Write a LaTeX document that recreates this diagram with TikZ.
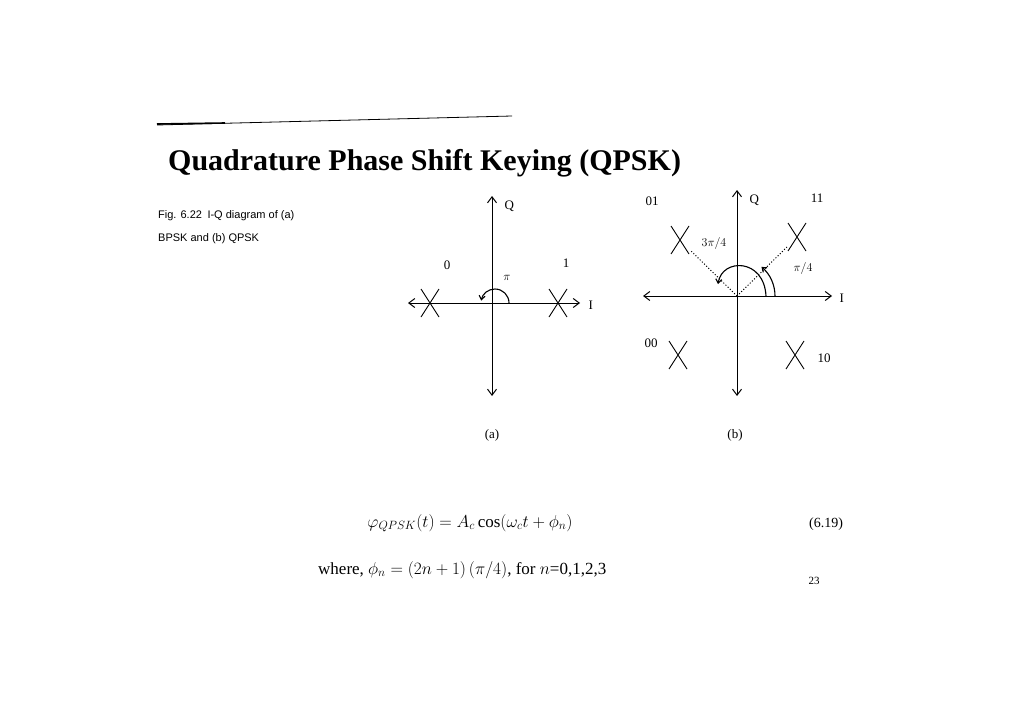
\documentclass[tikz,border=0pt]{standalone}
\usepackage{fontspec}
\setmainfont{Liberation Serif}
\newfontfamily\capfont{Liberation Sans}
\usetikzlibrary{arrows.meta}
\begin{document}
\begin{tikzpicture}[x=1pt,y=-1pt,
  ax/.style={line width=1pt,{Straight Barb[length=6pt,width=9pt]}-{Straight Barb[length=6pt,width=9pt]}},
  arcar/.style={line width=1.1pt,-{Straight Barb[length=4pt,width=6pt]}},
  lbl/.style={font=\fontsize{13}{13}\selectfont},
  dots/.style={dotted,line width=1pt}]
\useasboundingbox (0,0) rectangle (1024,707);
% header rule
\draw[line width=0.8pt] (157,125) -- (512,116);
\draw[line width=1.6pt] (157,124) -- (225,123);
\node[anchor=base west,inner sep=0,font=\fontsize{30}{30}\selectfont\bfseries] (title) at (168,170) {Quadrature Phase Shift Keying (QPSK)};
\node[anchor=base west,inner sep=0,font=\capfont\fontsize{11}{11}\selectfont] (cap1) at (158,218) {Fig. 6.22\enspace I-Q diagram of (a)};
\node[anchor=base west,inner sep=0,font=\capfont\fontsize{11}{11}\selectfont] (cap2) at (158,241) {BPSK and (b) QPSK};
% diagram (a)
\coordinate (oa) at (492,303);
\coordinate (al) at (408,303); \coordinate (ar) at (580,303);
\coordinate (at) at (492,196); \coordinate (ab) at (492,396);
\draw[ax] (al) -- (ar);
\draw[ax] (at) -- (ab);
\node[lbl,anchor=west] (qa) at (501,206) {Q};
\node[lbl,anchor=west] (ia) at (585,305) {I};
\foreach \x in {430,558}{
  \draw[line width=0.9pt] (\x-9,289) -- (\x+9,317) (\x+9,289) -- (\x-9,317);
}
\node[lbl] (l0) at (447,265) {0};
\node[lbl] (l1) at (566,263) {1};
\node[lbl] (pia) at (507,278) {$\pi$};
\draw[arcar] (509,303) arc[start angle=0,end angle=-170,radius=14];
\node[lbl] (capa) at (492,435) {(a)};
% diagram (b)
\coordinate (ob) at (737,296);
\coordinate (bl) at (643,296); \coordinate (br) at (832,296);
\coordinate (bt) at (737,190); \coordinate (bb) at (737,396);
\draw[ax] (bl) -- (br);
\draw[ax] (bt) -- (bb);
\node[lbl,anchor=west] (qb) at (746,200) {Q};
\node[lbl,anchor=west] (ib) at (836,298) {I};
\foreach \x/\y in {680/240,797/237,678/355,795/355}{
  \draw[line width=0.9pt] (\x-9,\y-14) -- (\x+9,\y+14) (\x+9,\y-14) -- (\x-9,\y+14);
}
\draw[dots] (ob) -- (690,250);
\draw[dots] (ob) -- (788,246);
\node[lbl] (l01) at (652,201) {01};
\node[lbl] (l11) at (817,198) {11};
\node[lbl] (l00) at (651,343) {00};
\node[lbl] (l10) at (824,358) {10};
\draw[arcar] (775,296) arc[start angle=0,end angle=-50,radius=38];
\draw[arcar] (766,296) .. controls (764,258) and (722,258) .. (718,284);
\node[lbl] (p4) at (803,268) {$\pi/4$};
\node[lbl] (p34) at (714,243) {$3\pi/4$};
\node[lbl] (capb) at (735,435) {(b)};
% equations
\node[anchor=base,inner sep=0,font=\fontsize{17}{17}\selectfont] (eq1) at (470,527) {$\varphi_{QPSK}(t) = A_c\cos(\omega_c t + \phi_n)$};
\node[anchor=base,inner sep=0,font=\fontsize{14}{14}\selectfont] (eqn) at (826,527) {(6.19)};
\node[anchor=base west,inner sep=0,font=\fontsize{17}{17}\selectfont] (eq2) at (318,574) {where, $\phi_n = (2n+1)\,(\pi/4)$, for $n$=0,1,2,3};
\node[font=\fontsize{11}{11}\selectfont] (pg) at (814,581) {23};
\end{tikzpicture}
\end{document}
